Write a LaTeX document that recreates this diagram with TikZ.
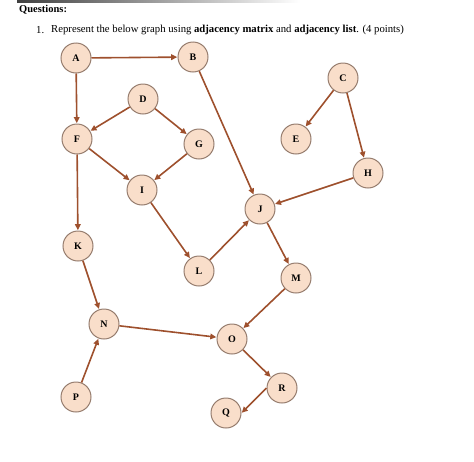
\documentclass[tikz,border=0pt]{standalone}
\usepackage{fontspec}
\setmainfont{Liberation Serif}
\usetikzlibrary{arrows.meta}
\definecolor{nodefill}{RGB}{249,222,202}
\definecolor{nodeline}{RGB}{150,125,110}
\definecolor{edgecol}{RGB}{158,80,45}
\begin{document}
\begin{tikzpicture}[x=1pt,y=-1pt,
  vtx/.style={circle,draw=nodeline,fill=nodefill,line width=1pt,minimum size=30pt,inner sep=0pt,font=\bfseries\fontsize{10}{11}\selectfont},
  edge/.style={draw=edgecol,line width=1.6pt,-{Triangle[length=6pt,width=5.5pt]},shorten >=0.3pt}]
\useasboundingbox (0,0) rectangle (474,461);
\shade[left color=black!75,right color=white] (17,0) rectangle (300,2.5);
\node[anchor=west,font=\bfseries\fontsize{10.5}{12}\selectfont,inner sep=0pt] (q) at (19,10) {Questions:};
\node[anchor=west,font=\fontsize{10.7}{12}\selectfont,inner sep=0pt] (n1) at (36,30) {1.};
\node[anchor=west,font=\fontsize{10.7}{12}\selectfont,inner sep=0pt] (t1) at (51,30) {Represent the below graph using \textbf{adjacency matrix} and \textbf{adjacency list}. (4 points)};
\node[vtx] (A) at (76,58) {A};
\node[vtx] (B) at (193,57) {B};
\node[vtx] (C) at (343,78) {C};
\node[vtx] (D) at (143,99) {D};
\node[vtx] (E) at (296,139) {E};
\node[vtx] (F) at (77,139) {F};
\node[vtx] (G) at (199,144) {G};
\node[vtx] (H) at (368,173) {H};
\node[vtx] (I) at (142,190) {I};
\node[vtx] (J) at (260,209) {J};
\node[vtx] (K) at (78,246) {K};
\node[vtx] (L) at (199,271) {L};
\node[vtx] (M) at (296,278) {M};
\node[vtx] (N) at (104,324) {N};
\node[vtx] (O) at (232,339) {O};
\node[vtx] (P) at (76,397) {P};
\node[vtx] (Q) at (226,413) {Q};
\node[vtx] (R) at (282,388) {R};
\foreach \a/\b in {A/B,A/F,B/J,C/E,C/H,D/F,D/G,F/I,G/I,F/K,H/J,I/L,L/J,J/M,K/N,M/O,N/O,P/N,O/R}
  \draw[edge] (\a) -- (\b);
\draw[edge] (R.west) -- (Q.east);
\end{tikzpicture}
\end{document}
